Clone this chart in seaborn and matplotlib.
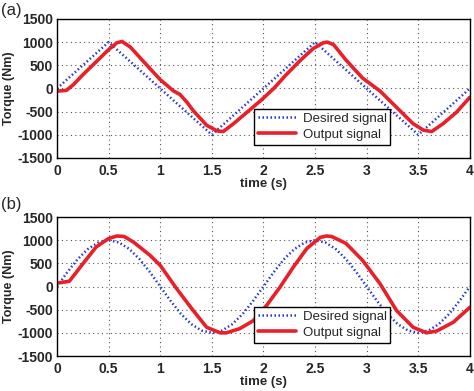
import matplotlib.pyplot as plt
import seaborn as sns

# panel (a): triangular reference
t_des_a = [0, 0.5, 1.5, 2.5, 3.5, 4.0]
v_des_a = [0, 1000, -1000, 1000, -1000, 0]

t_out_a = [0, 0.09, 0.16, 0.25, 0.38, 0.5, 0.58, 0.63, 0.71, 0.84, 1.0, 1.13,
           1.19, 1.26, 1.32, 1.45, 1.55, 1.61, 1.71, 1.84, 1.97, 2.10, 2.22,
           2.35, 2.48, 2.58, 2.62, 2.68, 2.8, 2.96, 3.13, 3.29, 3.45, 3.55,
           3.63, 3.74, 3.87, 4.0]
v_out_a = [-56, -42, 85, 296, 577, 838, 986, 1014, 894, 577, 190, -56,
           -127, -300, -480, -795, -915, -930, -760, -514, -268, 0, 296,
           591, 859, 986, 1000, 944, 613, 225, -56, -408, -760, -900,
           -930, -760, -514, -190]

# panel (b): sinusoidal reference
t_des_b = [0, 0.1, 0.2, 0.3, 0.4, 0.5, 0.6, 0.7, 0.8, 0.9, 1.0,
           1.1, 1.2, 1.3, 1.4, 1.5, 1.6, 1.7, 1.8, 1.9, 2.0,
           2.1, 2.2, 2.3, 2.4, 2.5, 2.6, 2.7, 2.8, 2.9, 3.0,
           3.1, 3.2, 3.3, 3.4, 3.5, 3.6, 3.7, 3.8, 3.9, 4.0]
v_des_b = [0, 310, 590, 810, 950, 1000, 950, 810, 590, 310, 0,
           -310, -590, -810, -950, -1000, -950, -810, -590, -310, 0,
           310, 590, 810, 950, 1000, 950, 810, 590, 310, 0,
           -310, -590, -810, -950, -1000, -950, -810, -590, -310, 0]

t_out_b = [0, 0.12, 0.25, 0.38, 0.5, 0.58, 0.65, 0.74, 0.9, 1.0, 1.16,
           1.32, 1.45, 1.58, 1.64, 1.77, 1.90, 2.03, 2.16, 2.29, 2.42,
           2.55, 2.61, 2.66, 2.80, 2.96, 3.13, 3.29, 3.45, 3.58, 3.68,
           3.84, 4.0]
v_out_b = [72, 115, 490, 855, 1036, 1090, 1080, 960, 675, 456, -50,
           -520, -880, -1000, -1000, -910, -740, -410, -15, 420, 820,
           1060, 1090, 1080, 930, 565, 58, -520, -880, -1000, -960,
           -770, -450]

x_ticks = [0, 0.5, 1, 1.5, 2, 2.5, 3, 3.5, 4]
x_labels = ["0", "0.5", "1", "1.5", "2", "2.5", "3", "3.5", "4"]
y_ticks = [-1500, -1000, -500, 0, 500, 1000, 1500]

col_des = '#2438d8'
col_out = '#e8202a'

sns.set_style("white")
plt.rcParams['font.family'] = ['Liberation Sans', 'DejaVu Sans']
plt.rcParams['axes.unicode_minus'] = False

fig = plt.figure(figsize=(4.74, 3.91), dpi=100)
ax_a = fig.add_axes([0.1203, 0.596, 0.871, 0.3555])
ax_b = fig.add_axes([0.1203, 0.0895, 0.871, 0.3555])

panels = [(ax_a, t_des_a, v_des_a, t_out_a, v_out_a, "(a)", 1 - 11 / 391),
          (ax_b, t_des_b, v_des_b, t_out_b, v_out_b, "(b)", 1 - 205 / 391)]

for ax, td, vd, to, vo, tag, ytag in panels:
    sns.lineplot(x=td, y=vd, ax=ax, color=col_des, lw=1.8,
                 linestyle=(0, (0.6, 1.0)), label="Desired signal", sort=False)
    sns.lineplot(x=to, y=vo, ax=ax, color=col_out, lw=2.6,
                 label="Output signal", sort=False)
    ax.set_xlim(0, 4)
    ax.set_ylim(-1500, 1500)
    ax.set_xticks(x_ticks)
    ax.set_xticklabels(x_labels)
    ax.set_yticks(y_ticks)
    ax.grid(True, color='#555555', linestyle=(0, (1, 3)), lw=0.8)
    for s in ax.spines.values():
        s.set_color('black')
        s.set_linewidth(1.0)
    ax.tick_params(labelsize=10, length=3, direction='in')
    ax.tick_params(axis='x', pad=4)
    ax.tick_params(axis='y', pad=3)
    for lab in ax.get_xticklabels() + ax.get_yticklabels():
        lab.set_fontweight('bold')
    ax.set_xlabel("time (s)", fontsize=9.5, fontweight='bold', va='center')
    ax.xaxis.set_label_coords(0.5, -0.19)
    ax.set_ylabel("Torque (Nm)", fontsize=9, fontweight='bold', va='center')
    ax.yaxis.set_label_coords(-0.117, 0.5)
    leg = ax.legend(loc='center', bbox_to_anchor=(0.642, 0.225), fontsize=9.5,
                    frameon=True, fancybox=False, handlelength=2.9,
                    borderpad=0.3, labelspacing=0.25, handletextpad=0.5)
    leg.get_frame().set_edgecolor('black')
    leg.get_frame().set_linewidth(1.0)
    leg.get_frame().set_alpha(1)
    fig.text(0.002, ytag, tag, fontsize=12, va='center', ha='left')

fig.savefig("out.png", dpi=100)
